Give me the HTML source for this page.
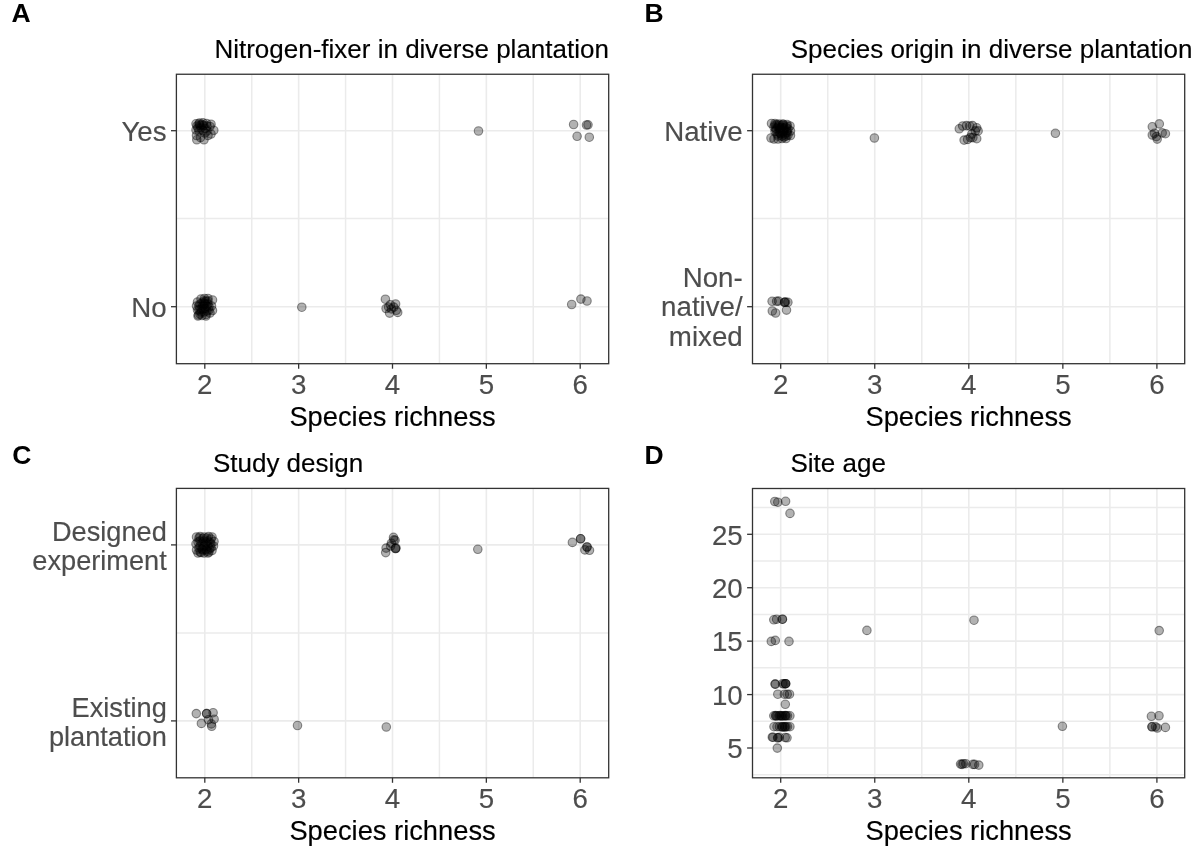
<!DOCTYPE html><html><head><meta charset="utf-8"><style>html,body{margin:0;padding:0;background:#fff;}svg{display:block;will-change:transform;}text{font-family:"Liberation Sans", sans-serif;}</style></head><body>
<svg width="1200" height="853" viewBox="0 0 1200 853">
<rect width="1200" height="853" fill="#fff"/>
<line x1="251.73" y1="74.25" x2="251.73" y2="363.70" stroke="#EBEBEB" stroke-width="1.5"/>
<line x1="345.57" y1="74.25" x2="345.57" y2="363.70" stroke="#EBEBEB" stroke-width="1.5"/>
<line x1="439.43" y1="74.25" x2="439.43" y2="363.70" stroke="#EBEBEB" stroke-width="1.5"/>
<line x1="533.27" y1="74.25" x2="533.27" y2="363.70" stroke="#EBEBEB" stroke-width="1.5"/>
<line x1="176.40" y1="218.50" x2="608.70" y2="218.50" stroke="#EBEBEB" stroke-width="1.5"/>
<line x1="204.80" y1="74.25" x2="204.80" y2="363.70" stroke="#EBEBEB" stroke-width="1.6"/>
<line x1="298.65" y1="74.25" x2="298.65" y2="363.70" stroke="#EBEBEB" stroke-width="1.6"/>
<line x1="392.50" y1="74.25" x2="392.50" y2="363.70" stroke="#EBEBEB" stroke-width="1.6"/>
<line x1="486.35" y1="74.25" x2="486.35" y2="363.70" stroke="#EBEBEB" stroke-width="1.6"/>
<line x1="580.20" y1="74.25" x2="580.20" y2="363.70" stroke="#EBEBEB" stroke-width="1.6"/>
<line x1="176.40" y1="130.70" x2="608.70" y2="130.70" stroke="#EBEBEB" stroke-width="1.6"/>
<line x1="176.40" y1="306.70" x2="608.70" y2="306.70" stroke="#EBEBEB" stroke-width="1.6"/>
<line x1="827.73" y1="74.25" x2="827.73" y2="363.70" stroke="#EBEBEB" stroke-width="1.5"/>
<line x1="921.78" y1="74.25" x2="921.78" y2="363.70" stroke="#EBEBEB" stroke-width="1.5"/>
<line x1="1015.83" y1="74.25" x2="1015.83" y2="363.70" stroke="#EBEBEB" stroke-width="1.5"/>
<line x1="1109.88" y1="74.25" x2="1109.88" y2="363.70" stroke="#EBEBEB" stroke-width="1.5"/>
<line x1="752.50" y1="218.50" x2="1184.70" y2="218.50" stroke="#EBEBEB" stroke-width="1.5"/>
<line x1="780.70" y1="74.25" x2="780.70" y2="363.70" stroke="#EBEBEB" stroke-width="1.6"/>
<line x1="874.75" y1="74.25" x2="874.75" y2="363.70" stroke="#EBEBEB" stroke-width="1.6"/>
<line x1="968.80" y1="74.25" x2="968.80" y2="363.70" stroke="#EBEBEB" stroke-width="1.6"/>
<line x1="1062.85" y1="74.25" x2="1062.85" y2="363.70" stroke="#EBEBEB" stroke-width="1.6"/>
<line x1="1156.90" y1="74.25" x2="1156.90" y2="363.70" stroke="#EBEBEB" stroke-width="1.6"/>
<line x1="752.50" y1="130.70" x2="1184.70" y2="130.70" stroke="#EBEBEB" stroke-width="1.6"/>
<line x1="752.50" y1="306.70" x2="1184.70" y2="306.70" stroke="#EBEBEB" stroke-width="1.6"/>
<line x1="251.73" y1="488.40" x2="251.73" y2="777.80" stroke="#EBEBEB" stroke-width="1.5"/>
<line x1="345.57" y1="488.40" x2="345.57" y2="777.80" stroke="#EBEBEB" stroke-width="1.5"/>
<line x1="439.43" y1="488.40" x2="439.43" y2="777.80" stroke="#EBEBEB" stroke-width="1.5"/>
<line x1="533.27" y1="488.40" x2="533.27" y2="777.80" stroke="#EBEBEB" stroke-width="1.5"/>
<line x1="176.40" y1="633.10" x2="608.70" y2="633.10" stroke="#EBEBEB" stroke-width="1.5"/>
<line x1="204.80" y1="488.40" x2="204.80" y2="777.80" stroke="#EBEBEB" stroke-width="1.6"/>
<line x1="298.65" y1="488.40" x2="298.65" y2="777.80" stroke="#EBEBEB" stroke-width="1.6"/>
<line x1="392.50" y1="488.40" x2="392.50" y2="777.80" stroke="#EBEBEB" stroke-width="1.6"/>
<line x1="486.35" y1="488.40" x2="486.35" y2="777.80" stroke="#EBEBEB" stroke-width="1.6"/>
<line x1="580.20" y1="488.40" x2="580.20" y2="777.80" stroke="#EBEBEB" stroke-width="1.6"/>
<line x1="176.40" y1="544.90" x2="608.70" y2="544.90" stroke="#EBEBEB" stroke-width="1.6"/>
<line x1="176.40" y1="720.90" x2="608.70" y2="720.90" stroke="#EBEBEB" stroke-width="1.6"/>
<line x1="827.73" y1="488.50" x2="827.73" y2="777.80" stroke="#EBEBEB" stroke-width="1.5"/>
<line x1="921.78" y1="488.50" x2="921.78" y2="777.80" stroke="#EBEBEB" stroke-width="1.5"/>
<line x1="1015.83" y1="488.50" x2="1015.83" y2="777.80" stroke="#EBEBEB" stroke-width="1.5"/>
<line x1="1109.88" y1="488.50" x2="1109.88" y2="777.80" stroke="#EBEBEB" stroke-width="1.5"/>
<line x1="752.50" y1="774.71" x2="1184.70" y2="774.71" stroke="#EBEBEB" stroke-width="1.5"/>
<line x1="752.50" y1="721.29" x2="1184.70" y2="721.29" stroke="#EBEBEB" stroke-width="1.5"/>
<line x1="752.50" y1="667.86" x2="1184.70" y2="667.86" stroke="#EBEBEB" stroke-width="1.5"/>
<line x1="752.50" y1="614.44" x2="1184.70" y2="614.44" stroke="#EBEBEB" stroke-width="1.5"/>
<line x1="752.50" y1="561.01" x2="1184.70" y2="561.01" stroke="#EBEBEB" stroke-width="1.5"/>
<line x1="752.50" y1="507.59" x2="1184.70" y2="507.59" stroke="#EBEBEB" stroke-width="1.5"/>
<line x1="780.70" y1="488.50" x2="780.70" y2="777.80" stroke="#EBEBEB" stroke-width="1.6"/>
<line x1="874.75" y1="488.50" x2="874.75" y2="777.80" stroke="#EBEBEB" stroke-width="1.6"/>
<line x1="968.80" y1="488.50" x2="968.80" y2="777.80" stroke="#EBEBEB" stroke-width="1.6"/>
<line x1="1062.85" y1="488.50" x2="1062.85" y2="777.80" stroke="#EBEBEB" stroke-width="1.6"/>
<line x1="1156.90" y1="488.50" x2="1156.90" y2="777.80" stroke="#EBEBEB" stroke-width="1.6"/>
<line x1="752.50" y1="748.00" x2="1184.70" y2="748.00" stroke="#EBEBEB" stroke-width="1.6"/>
<line x1="752.50" y1="694.58" x2="1184.70" y2="694.58" stroke="#EBEBEB" stroke-width="1.6"/>
<line x1="752.50" y1="641.15" x2="1184.70" y2="641.15" stroke="#EBEBEB" stroke-width="1.6"/>
<line x1="752.50" y1="587.73" x2="1184.70" y2="587.73" stroke="#EBEBEB" stroke-width="1.6"/>
<line x1="752.50" y1="534.30" x2="1184.70" y2="534.30" stroke="#EBEBEB" stroke-width="1.6"/>
<g fill="rgba(0,0,0,0.3)" stroke="rgba(0,0,0,0.42)" stroke-width="1.1">
<circle cx="196.00" cy="123.80" r="4.25"/>
<circle cx="199.50" cy="123.00" r="4.25"/>
<circle cx="203.00" cy="122.80" r="4.25"/>
<circle cx="206.50" cy="123.50" r="4.25"/>
<circle cx="211.00" cy="124.20" r="4.25"/>
<circle cx="197.00" cy="126.00" r="4.25"/>
<circle cx="200.00" cy="125.50" r="4.25"/>
<circle cx="203.50" cy="125.50" r="4.25"/>
<circle cx="207.00" cy="126.00" r="4.25"/>
<circle cx="210.00" cy="126.50" r="4.25"/>
<circle cx="198.00" cy="128.00" r="4.25"/>
<circle cx="201.00" cy="128.00" r="4.25"/>
<circle cx="205.00" cy="128.50" r="4.25"/>
<circle cx="199.00" cy="124.00" r="4.25"/>
<circle cx="202.00" cy="124.50" r="4.25"/>
<circle cx="213.80" cy="130.30" r="4.25"/>
<circle cx="211.00" cy="134.00" r="4.25"/>
<circle cx="207.00" cy="131.00" r="4.25"/>
<circle cx="203.00" cy="130.50" r="4.25"/>
<circle cx="199.00" cy="131.00" r="4.25"/>
<circle cx="196.00" cy="130.00" r="4.25"/>
<circle cx="205.00" cy="133.00" r="4.25"/>
<circle cx="196.50" cy="135.50" r="4.25"/>
<circle cx="196.80" cy="139.80" r="4.25"/>
<circle cx="200.50" cy="137.50" r="4.25"/>
<circle cx="204.00" cy="139.80" r="4.25"/>
<circle cx="208.00" cy="135.50" r="4.25"/>
<circle cx="478.50" cy="131.00" r="4.25"/>
<circle cx="573.60" cy="124.50" r="4.25"/>
<circle cx="586.50" cy="125.00" r="4.25"/>
<circle cx="588.00" cy="124.80" r="4.25"/>
<circle cx="577.10" cy="136.30" r="4.25"/>
<circle cx="589.30" cy="137.20" r="4.25"/>
<circle cx="197.50" cy="302.00" r="4.25"/>
<circle cx="201.00" cy="299.00" r="4.25"/>
<circle cx="204.50" cy="298.50" r="4.25"/>
<circle cx="208.00" cy="298.50" r="4.25"/>
<circle cx="212.50" cy="300.00" r="4.25"/>
<circle cx="196.50" cy="306.00" r="4.25"/>
<circle cx="200.00" cy="304.00" r="4.25"/>
<circle cx="204.00" cy="303.00" r="4.25"/>
<circle cx="208.00" cy="304.00" r="4.25"/>
<circle cx="211.50" cy="306.00" r="4.25"/>
<circle cx="212.50" cy="310.50" r="4.25"/>
<circle cx="197.50" cy="310.00" r="4.25"/>
<circle cx="201.00" cy="309.00" r="4.25"/>
<circle cx="205.00" cy="308.50" r="4.25"/>
<circle cx="209.00" cy="310.00" r="4.25"/>
<circle cx="198.50" cy="315.00" r="4.25"/>
<circle cx="202.00" cy="315.50" r="4.25"/>
<circle cx="206.00" cy="314.50" r="4.25"/>
<circle cx="210.00" cy="313.00" r="4.25"/>
<circle cx="203.00" cy="306.00" r="4.25"/>
<circle cx="206.00" cy="301.00" r="4.25"/>
<circle cx="207.00" cy="306.50" r="4.25"/>
<circle cx="201.00" cy="312.00" r="4.25"/>
<circle cx="204.00" cy="301.00" r="4.25"/>
<circle cx="208.00" cy="301.00" r="4.25"/>
<circle cx="199.00" cy="306.00" r="4.25"/>
<circle cx="203.00" cy="309.00" r="4.25"/>
<circle cx="207.00" cy="311.00" r="4.25"/>
<circle cx="204.00" cy="312.00" r="4.25"/>
<circle cx="200.00" cy="314.00" r="4.25"/>
<circle cx="205.00" cy="304.00" r="4.25"/>
<circle cx="209.00" cy="307.00" r="4.25"/>
<circle cx="202.00" cy="303.00" r="4.25"/>
<circle cx="206.00" cy="316.00" r="4.25"/>
<circle cx="199.00" cy="310.00" r="4.25"/>
<circle cx="198.00" cy="316.00" r="4.25"/>
<circle cx="301.80" cy="307.20" r="4.25"/>
<circle cx="385.40" cy="299.20" r="4.25"/>
<circle cx="390.30" cy="304.70" r="4.25"/>
<circle cx="395.60" cy="304.00" r="4.25"/>
<circle cx="386.10" cy="308.50" r="4.25"/>
<circle cx="389.60" cy="313.10" r="4.25"/>
<circle cx="397.70" cy="312.40" r="4.25"/>
<circle cx="391.40" cy="308.90" r="4.25"/>
<circle cx="393.80" cy="307.10" r="4.25"/>
<circle cx="388.60" cy="307.10" r="4.25"/>
<circle cx="396.30" cy="310.30" r="4.25"/>
<circle cx="571.70" cy="304.50" r="4.25"/>
<circle cx="580.90" cy="299.10" r="4.25"/>
<circle cx="587.00" cy="301.00" r="4.25"/>
<circle cx="771.50" cy="123.50" r="4.25"/>
<circle cx="775.00" cy="123.50" r="4.25"/>
<circle cx="779.00" cy="124.00" r="4.25"/>
<circle cx="783.00" cy="124.00" r="4.25"/>
<circle cx="787.00" cy="124.50" r="4.25"/>
<circle cx="790.00" cy="126.00" r="4.25"/>
<circle cx="790.50" cy="131.00" r="4.25"/>
<circle cx="790.50" cy="135.50" r="4.25"/>
<circle cx="786.00" cy="138.50" r="4.25"/>
<circle cx="782.00" cy="138.50" r="4.25"/>
<circle cx="778.00" cy="139.00" r="4.25"/>
<circle cx="774.00" cy="139.00" r="4.25"/>
<circle cx="771.00" cy="138.00" r="4.25"/>
<circle cx="776.00" cy="130.00" r="4.25"/>
<circle cx="780.00" cy="130.00" r="4.25"/>
<circle cx="784.00" cy="130.00" r="4.25"/>
<circle cx="787.00" cy="131.00" r="4.25"/>
<circle cx="774.00" cy="127.00" r="4.25"/>
<circle cx="778.00" cy="127.00" r="4.25"/>
<circle cx="782.00" cy="127.50" r="4.25"/>
<circle cx="786.00" cy="127.50" r="4.25"/>
<circle cx="777.00" cy="134.00" r="4.25"/>
<circle cx="781.00" cy="134.00" r="4.25"/>
<circle cx="785.00" cy="134.00" r="4.25"/>
<circle cx="788.00" cy="135.00" r="4.25"/>
<circle cx="775.00" cy="125.00" r="4.25"/>
<circle cx="779.00" cy="125.50" r="4.25"/>
<circle cx="783.00" cy="125.50" r="4.25"/>
<circle cx="787.00" cy="126.00" r="4.25"/>
<circle cx="776.00" cy="128.50" r="4.25"/>
<circle cx="780.00" cy="128.00" r="4.25"/>
<circle cx="784.00" cy="128.50" r="4.25"/>
<circle cx="788.00" cy="129.00" r="4.25"/>
<circle cx="775.00" cy="131.50" r="4.25"/>
<circle cx="779.00" cy="132.00" r="4.25"/>
<circle cx="783.00" cy="132.00" r="4.25"/>
<circle cx="787.00" cy="132.50" r="4.25"/>
<circle cx="778.00" cy="136.00" r="4.25"/>
<circle cx="782.00" cy="136.00" r="4.25"/>
<circle cx="786.00" cy="136.00" r="4.25"/>
<circle cx="784.00" cy="137.00" r="4.25"/>
<circle cx="780.00" cy="133.00" r="4.25"/>
<circle cx="783.00" cy="124.50" r="4.25"/>
<circle cx="777.00" cy="124.50" r="4.25"/>
<circle cx="874.40" cy="138.00" r="4.25"/>
<circle cx="959.30" cy="128.80" r="4.25"/>
<circle cx="962.70" cy="126.00" r="4.25"/>
<circle cx="966.50" cy="125.60" r="4.25"/>
<circle cx="969.70" cy="126.00" r="4.25"/>
<circle cx="972.50" cy="125.60" r="4.25"/>
<circle cx="976.70" cy="127.80" r="4.25"/>
<circle cx="978.10" cy="130.90" r="4.25"/>
<circle cx="975.30" cy="130.90" r="4.25"/>
<circle cx="971.80" cy="134.10" r="4.25"/>
<circle cx="972.90" cy="137.60" r="4.25"/>
<circle cx="976.70" cy="138.70" r="4.25"/>
<circle cx="964.10" cy="140.10" r="4.25"/>
<circle cx="967.60" cy="139.40" r="4.25"/>
<circle cx="970.40" cy="137.60" r="4.25"/>
<circle cx="1055.40" cy="133.30" r="4.25"/>
<circle cx="1152.30" cy="126.80" r="4.25"/>
<circle cx="1159.30" cy="123.90" r="4.25"/>
<circle cx="1165.40" cy="133.70" r="4.25"/>
<circle cx="1152.30" cy="135.00" r="4.25"/>
<circle cx="1156.40" cy="136.60" r="4.25"/>
<circle cx="1157.20" cy="139.10" r="4.25"/>
<circle cx="1162.20" cy="132.90" r="4.25"/>
<circle cx="1154.40" cy="133.30" r="4.25"/>
<circle cx="772.10" cy="301.30" r="4.25"/>
<circle cx="776.60" cy="301.30" r="4.25"/>
<circle cx="778.50" cy="301.10" r="4.25"/>
<circle cx="784.60" cy="302.30" r="4.25"/>
<circle cx="784.60" cy="302.30" r="4.25"/>
<circle cx="785.50" cy="302.00" r="4.25"/>
<circle cx="787.90" cy="302.30" r="4.25"/>
<circle cx="772.30" cy="311.00" r="4.25"/>
<circle cx="775.60" cy="313.00" r="4.25"/>
<circle cx="786.50" cy="310.10" r="4.25"/>
<circle cx="196.50" cy="537.00" r="4.25"/>
<circle cx="200.00" cy="536.50" r="4.25"/>
<circle cx="204.00" cy="537.00" r="4.25"/>
<circle cx="208.50" cy="536.50" r="4.25"/>
<circle cx="212.00" cy="537.00" r="4.25"/>
<circle cx="214.00" cy="541.50" r="4.25"/>
<circle cx="213.50" cy="546.00" r="4.25"/>
<circle cx="212.00" cy="550.50" r="4.25"/>
<circle cx="208.00" cy="553.00" r="4.25"/>
<circle cx="204.00" cy="553.00" r="4.25"/>
<circle cx="200.00" cy="552.00" r="4.25"/>
<circle cx="196.50" cy="550.00" r="4.25"/>
<circle cx="196.00" cy="544.00" r="4.25"/>
<circle cx="200.00" cy="541.00" r="4.25"/>
<circle cx="204.00" cy="541.00" r="4.25"/>
<circle cx="208.00" cy="541.00" r="4.25"/>
<circle cx="200.00" cy="546.00" r="4.25"/>
<circle cx="204.00" cy="546.00" r="4.25"/>
<circle cx="208.00" cy="546.00" r="4.25"/>
<circle cx="211.00" cy="544.00" r="4.25"/>
<circle cx="202.00" cy="549.00" r="4.25"/>
<circle cx="206.00" cy="549.50" r="4.25"/>
<circle cx="209.50" cy="549.00" r="4.25"/>
<circle cx="198.00" cy="553.00" r="4.25"/>
<circle cx="199.00" cy="538.00" r="4.25"/>
<circle cx="203.00" cy="538.50" r="4.25"/>
<circle cx="207.00" cy="538.00" r="4.25"/>
<circle cx="211.00" cy="539.00" r="4.25"/>
<circle cx="198.00" cy="542.00" r="4.25"/>
<circle cx="202.00" cy="543.00" r="4.25"/>
<circle cx="206.00" cy="543.00" r="4.25"/>
<circle cx="210.00" cy="542.50" r="4.25"/>
<circle cx="199.00" cy="548.00" r="4.25"/>
<circle cx="203.00" cy="550.00" r="4.25"/>
<circle cx="207.00" cy="551.00" r="4.25"/>
<circle cx="211.00" cy="547.50" r="4.25"/>
<circle cx="205.00" cy="545.00" r="4.25"/>
<circle cx="201.00" cy="552.50" r="4.25"/>
<circle cx="209.00" cy="552.00" r="4.25"/>
<circle cx="393.50" cy="537.40" r="4.25"/>
<circle cx="393.90" cy="539.90" r="4.25"/>
<circle cx="395.10" cy="540.30" r="4.25"/>
<circle cx="391.40" cy="543.20" r="4.25"/>
<circle cx="395.50" cy="548.50" r="4.25"/>
<circle cx="395.50" cy="548.50" r="4.25"/>
<circle cx="396.00" cy="548.00" r="4.25"/>
<circle cx="386.10" cy="548.10" r="4.25"/>
<circle cx="385.70" cy="552.60" r="4.25"/>
<circle cx="390.60" cy="546.00" r="4.25"/>
<circle cx="477.80" cy="549.30" r="4.25"/>
<circle cx="572.40" cy="542.40" r="4.25"/>
<circle cx="580.60" cy="538.80" r="4.25"/>
<circle cx="580.60" cy="538.80" r="4.25"/>
<circle cx="587.00" cy="547.00" r="4.25"/>
<circle cx="587.00" cy="547.00" r="4.25"/>
<circle cx="584.90" cy="549.90" r="4.25"/>
<circle cx="589.50" cy="550.30" r="4.25"/>
<circle cx="196.30" cy="713.60" r="4.25"/>
<circle cx="206.60" cy="713.60" r="4.25"/>
<circle cx="206.60" cy="713.60" r="4.25"/>
<circle cx="213.10" cy="712.70" r="4.25"/>
<circle cx="214.10" cy="719.20" r="4.25"/>
<circle cx="201.40" cy="723.40" r="4.25"/>
<circle cx="211.30" cy="723.90" r="4.25"/>
<circle cx="211.70" cy="726.30" r="4.25"/>
<circle cx="208.40" cy="719.70" r="4.25"/>
<circle cx="297.50" cy="725.50" r="4.25"/>
<circle cx="386.30" cy="727.00" r="4.25"/>
<circle cx="774.80" cy="501.50" r="4.25"/>
<circle cx="777.80" cy="502.20" r="4.25"/>
<circle cx="785.60" cy="501.30" r="4.25"/>
<circle cx="790.00" cy="513.40" r="4.25"/>
<circle cx="773.80" cy="619.80" r="4.25"/>
<circle cx="776.60" cy="619.20" r="4.25"/>
<circle cx="782.40" cy="619.20" r="4.25"/>
<circle cx="782.40" cy="619.20" r="4.25"/>
<circle cx="771.30" cy="641.40" r="4.25"/>
<circle cx="775.30" cy="640.40" r="4.25"/>
<circle cx="789.00" cy="641.40" r="4.25"/>
<circle cx="775.00" cy="684.10" r="4.25"/>
<circle cx="775.40" cy="684.10" r="4.25"/>
<circle cx="785.60" cy="683.70" r="4.25"/>
<circle cx="785.60" cy="683.70" r="4.25"/>
<circle cx="785.60" cy="683.70" r="4.25"/>
<circle cx="782.50" cy="683.70" r="4.25"/>
<circle cx="784.00" cy="683.90" r="4.25"/>
<circle cx="777.80" cy="694.20" r="4.25"/>
<circle cx="784.40" cy="694.20" r="4.25"/>
<circle cx="787.20" cy="694.20" r="4.25"/>
<circle cx="789.50" cy="694.20" r="4.25"/>
<circle cx="785.30" cy="704.30" r="4.25"/>
<circle cx="773.80" cy="715.80" r="4.25"/>
<circle cx="775.50" cy="715.60" r="4.25"/>
<circle cx="777.00" cy="715.80" r="4.25"/>
<circle cx="779.00" cy="715.80" r="4.25"/>
<circle cx="780.00" cy="715.60" r="4.25"/>
<circle cx="781.10" cy="715.80" r="4.25"/>
<circle cx="783.00" cy="715.80" r="4.25"/>
<circle cx="784.60" cy="715.80" r="4.25"/>
<circle cx="785.50" cy="715.60" r="4.25"/>
<circle cx="786.00" cy="715.80" r="4.25"/>
<circle cx="787.50" cy="715.80" r="4.25"/>
<circle cx="789.90" cy="715.80" r="4.25"/>
<circle cx="776.00" cy="716.00" r="4.25"/>
<circle cx="782.00" cy="716.00" r="4.25"/>
<circle cx="774.00" cy="726.70" r="4.25"/>
<circle cx="777.00" cy="726.70" r="4.25"/>
<circle cx="779.50" cy="726.70" r="4.25"/>
<circle cx="781.70" cy="726.70" r="4.25"/>
<circle cx="783.00" cy="726.70" r="4.25"/>
<circle cx="784.60" cy="726.70" r="4.25"/>
<circle cx="786.00" cy="726.70" r="4.25"/>
<circle cx="787.50" cy="726.70" r="4.25"/>
<circle cx="789.90" cy="726.70" r="4.25"/>
<circle cx="782.50" cy="727.00" r="4.25"/>
<circle cx="785.00" cy="727.00" r="4.25"/>
<circle cx="772.30" cy="737.20" r="4.25"/>
<circle cx="773.00" cy="737.20" r="4.25"/>
<circle cx="777.60" cy="737.80" r="4.25"/>
<circle cx="778.00" cy="737.80" r="4.25"/>
<circle cx="779.30" cy="737.20" r="4.25"/>
<circle cx="785.20" cy="737.50" r="4.25"/>
<circle cx="787.00" cy="737.80" r="4.25"/>
<circle cx="777.30" cy="748.10" r="4.25"/>
<circle cx="866.90" cy="630.40" r="4.25"/>
<circle cx="974.00" cy="620.20" r="4.25"/>
<circle cx="960.60" cy="764.10" r="4.25"/>
<circle cx="963.40" cy="763.70" r="4.25"/>
<circle cx="965.80" cy="763.70" r="4.25"/>
<circle cx="972.90" cy="764.40" r="4.25"/>
<circle cx="974.60" cy="764.40" r="4.25"/>
<circle cx="978.80" cy="765.10" r="4.25"/>
<circle cx="962.00" cy="764.40" r="4.25"/>
<circle cx="1062.40" cy="726.30" r="4.25"/>
<circle cx="1159.20" cy="630.60" r="4.25"/>
<circle cx="1151.40" cy="716.30" r="4.25"/>
<circle cx="1159.00" cy="715.75" r="4.25"/>
<circle cx="1152.00" cy="726.80" r="4.25"/>
<circle cx="1152.00" cy="726.80" r="4.25"/>
<circle cx="1155.50" cy="726.80" r="4.25"/>
<circle cx="1157.30" cy="728.00" r="4.25"/>
<circle cx="1165.40" cy="727.40" r="4.25"/>
</g>
<rect x="176.40" y="74.25" width="432.30" height="289.45" fill="none" stroke="#333333" stroke-width="1.3"/>
<line x1="204.80" y1="363.70" x2="204.80" y2="368.70" stroke="#333333" stroke-width="1.3"/>
<text x="204.80" y="393.50" font-size="27.7" fill="#4D4D4D" text-anchor="middle" font-weight="normal" stroke="#4D4D4D" stroke-width="0.15">2</text>
<line x1="298.65" y1="363.70" x2="298.65" y2="368.70" stroke="#333333" stroke-width="1.3"/>
<text x="298.65" y="393.50" font-size="27.7" fill="#4D4D4D" text-anchor="middle" font-weight="normal" stroke="#4D4D4D" stroke-width="0.15">3</text>
<line x1="392.50" y1="363.70" x2="392.50" y2="368.70" stroke="#333333" stroke-width="1.3"/>
<text x="392.50" y="393.50" font-size="27.7" fill="#4D4D4D" text-anchor="middle" font-weight="normal" stroke="#4D4D4D" stroke-width="0.15">4</text>
<line x1="486.35" y1="363.70" x2="486.35" y2="368.70" stroke="#333333" stroke-width="1.3"/>
<text x="486.35" y="393.50" font-size="27.7" fill="#4D4D4D" text-anchor="middle" font-weight="normal" stroke="#4D4D4D" stroke-width="0.15">5</text>
<line x1="580.20" y1="363.70" x2="580.20" y2="368.70" stroke="#333333" stroke-width="1.3"/>
<text x="580.20" y="393.50" font-size="27.7" fill="#4D4D4D" text-anchor="middle" font-weight="normal" stroke="#4D4D4D" stroke-width="0.15">6</text>
<line x1="171.00" y1="130.70" x2="176.40" y2="130.70" stroke="#333333" stroke-width="1.3"/>
<line x1="171.00" y1="306.70" x2="176.40" y2="306.70" stroke="#333333" stroke-width="1.3"/>
<text x="166.60" y="140.90" font-size="27.7" fill="#4D4D4D" text-anchor="end" font-weight="normal" stroke="#4D4D4D" stroke-width="0.15">Yes</text>
<text x="166.60" y="316.90" font-size="27.7" fill="#4D4D4D" text-anchor="end" font-weight="normal" stroke="#4D4D4D" stroke-width="0.15">No</text>
<text x="392.55" y="425.70" font-size="27.3" fill="#000" text-anchor="middle" font-weight="normal" stroke="#000" stroke-width="0.15">Species richness</text>
<text x="214.40" y="57.80" font-size="26.0" fill="#000" text-anchor="start" font-weight="normal" stroke="#000" stroke-width="0.15">Nitrogen-fixer in diverse plantation</text>
<text x="11.50" y="21.80" font-size="26.5" fill="#000" text-anchor="start" font-weight="bold">A</text>
<rect x="752.50" y="74.25" width="432.20" height="289.45" fill="none" stroke="#333333" stroke-width="1.3"/>
<line x1="780.70" y1="363.70" x2="780.70" y2="368.70" stroke="#333333" stroke-width="1.3"/>
<text x="780.70" y="393.50" font-size="27.7" fill="#4D4D4D" text-anchor="middle" font-weight="normal" stroke="#4D4D4D" stroke-width="0.15">2</text>
<line x1="874.75" y1="363.70" x2="874.75" y2="368.70" stroke="#333333" stroke-width="1.3"/>
<text x="874.75" y="393.50" font-size="27.7" fill="#4D4D4D" text-anchor="middle" font-weight="normal" stroke="#4D4D4D" stroke-width="0.15">3</text>
<line x1="968.80" y1="363.70" x2="968.80" y2="368.70" stroke="#333333" stroke-width="1.3"/>
<text x="968.80" y="393.50" font-size="27.7" fill="#4D4D4D" text-anchor="middle" font-weight="normal" stroke="#4D4D4D" stroke-width="0.15">4</text>
<line x1="1062.85" y1="363.70" x2="1062.85" y2="368.70" stroke="#333333" stroke-width="1.3"/>
<text x="1062.85" y="393.50" font-size="27.7" fill="#4D4D4D" text-anchor="middle" font-weight="normal" stroke="#4D4D4D" stroke-width="0.15">5</text>
<line x1="1156.90" y1="363.70" x2="1156.90" y2="368.70" stroke="#333333" stroke-width="1.3"/>
<text x="1156.90" y="393.50" font-size="27.7" fill="#4D4D4D" text-anchor="middle" font-weight="normal" stroke="#4D4D4D" stroke-width="0.15">6</text>
<line x1="747.10" y1="130.70" x2="752.50" y2="130.70" stroke="#333333" stroke-width="1.3"/>
<line x1="747.10" y1="306.70" x2="752.50" y2="306.70" stroke="#333333" stroke-width="1.3"/>
<text x="742.70" y="140.90" font-size="27.7" fill="#4D4D4D" text-anchor="end" font-weight="normal" stroke="#4D4D4D" stroke-width="0.15">Native</text>
<text x="742.70" y="286.90" font-size="27.7" fill="#4D4D4D" text-anchor="end" font-weight="normal" stroke="#4D4D4D" stroke-width="0.15">Non-</text>
<text x="742.70" y="316.30" font-size="27.7" fill="#4D4D4D" text-anchor="end" font-weight="normal" stroke="#4D4D4D" stroke-width="0.15">native/</text>
<text x="742.70" y="345.70" font-size="27.7" fill="#4D4D4D" text-anchor="end" font-weight="normal" stroke="#4D4D4D" stroke-width="0.15">mixed</text>
<text x="968.60" y="425.70" font-size="27.3" fill="#000" text-anchor="middle" font-weight="normal" stroke="#000" stroke-width="0.15">Species richness</text>
<text x="790.70" y="57.80" font-size="26.0" fill="#000" text-anchor="start" font-weight="normal" stroke="#000" stroke-width="0.15">Species origin in diverse plantation</text>
<text x="644.40" y="21.80" font-size="26.5" fill="#000" text-anchor="start" font-weight="bold">B</text>
<rect x="176.40" y="488.40" width="432.30" height="289.40" fill="none" stroke="#333333" stroke-width="1.3"/>
<line x1="204.80" y1="777.80" x2="204.80" y2="782.80" stroke="#333333" stroke-width="1.3"/>
<text x="204.80" y="807.60" font-size="27.7" fill="#4D4D4D" text-anchor="middle" font-weight="normal" stroke="#4D4D4D" stroke-width="0.15">2</text>
<line x1="298.65" y1="777.80" x2="298.65" y2="782.80" stroke="#333333" stroke-width="1.3"/>
<text x="298.65" y="807.60" font-size="27.7" fill="#4D4D4D" text-anchor="middle" font-weight="normal" stroke="#4D4D4D" stroke-width="0.15">3</text>
<line x1="392.50" y1="777.80" x2="392.50" y2="782.80" stroke="#333333" stroke-width="1.3"/>
<text x="392.50" y="807.60" font-size="27.7" fill="#4D4D4D" text-anchor="middle" font-weight="normal" stroke="#4D4D4D" stroke-width="0.15">4</text>
<line x1="486.35" y1="777.80" x2="486.35" y2="782.80" stroke="#333333" stroke-width="1.3"/>
<text x="486.35" y="807.60" font-size="27.7" fill="#4D4D4D" text-anchor="middle" font-weight="normal" stroke="#4D4D4D" stroke-width="0.15">5</text>
<line x1="580.20" y1="777.80" x2="580.20" y2="782.80" stroke="#333333" stroke-width="1.3"/>
<text x="580.20" y="807.60" font-size="27.7" fill="#4D4D4D" text-anchor="middle" font-weight="normal" stroke="#4D4D4D" stroke-width="0.15">6</text>
<line x1="171.00" y1="544.90" x2="176.40" y2="544.90" stroke="#333333" stroke-width="1.3"/>
<line x1="171.00" y1="720.90" x2="176.40" y2="720.90" stroke="#333333" stroke-width="1.3"/>
<text x="166.80" y="541.00" font-size="27.2" fill="#4D4D4D" text-anchor="end" font-weight="normal" stroke="#4D4D4D" stroke-width="0.15">Designed</text>
<text x="166.80" y="570.40" font-size="27.2" fill="#4D4D4D" text-anchor="end" font-weight="normal" stroke="#4D4D4D" stroke-width="0.15">experiment</text>
<text x="166.80" y="717.00" font-size="27.2" fill="#4D4D4D" text-anchor="end" font-weight="normal" stroke="#4D4D4D" stroke-width="0.15">Existing</text>
<text x="166.80" y="746.40" font-size="27.2" fill="#4D4D4D" text-anchor="end" font-weight="normal" stroke="#4D4D4D" stroke-width="0.15">plantation</text>
<text x="392.55" y="839.80" font-size="27.3" fill="#000" text-anchor="middle" font-weight="normal" stroke="#000" stroke-width="0.15">Species richness</text>
<text x="212.90" y="472.20" font-size="26.0" fill="#000" text-anchor="start" font-weight="normal" stroke="#000" stroke-width="0.15">Study design</text>
<text x="12.30" y="463.60" font-size="26.5" fill="#000" text-anchor="start" font-weight="bold">C</text>
<rect x="752.50" y="488.50" width="432.20" height="289.30" fill="none" stroke="#333333" stroke-width="1.3"/>
<line x1="780.70" y1="777.80" x2="780.70" y2="782.80" stroke="#333333" stroke-width="1.3"/>
<text x="780.70" y="807.60" font-size="27.7" fill="#4D4D4D" text-anchor="middle" font-weight="normal" stroke="#4D4D4D" stroke-width="0.15">2</text>
<line x1="874.75" y1="777.80" x2="874.75" y2="782.80" stroke="#333333" stroke-width="1.3"/>
<text x="874.75" y="807.60" font-size="27.7" fill="#4D4D4D" text-anchor="middle" font-weight="normal" stroke="#4D4D4D" stroke-width="0.15">3</text>
<line x1="968.80" y1="777.80" x2="968.80" y2="782.80" stroke="#333333" stroke-width="1.3"/>
<text x="968.80" y="807.60" font-size="27.7" fill="#4D4D4D" text-anchor="middle" font-weight="normal" stroke="#4D4D4D" stroke-width="0.15">4</text>
<line x1="1062.85" y1="777.80" x2="1062.85" y2="782.80" stroke="#333333" stroke-width="1.3"/>
<text x="1062.85" y="807.60" font-size="27.7" fill="#4D4D4D" text-anchor="middle" font-weight="normal" stroke="#4D4D4D" stroke-width="0.15">5</text>
<line x1="1156.90" y1="777.80" x2="1156.90" y2="782.80" stroke="#333333" stroke-width="1.3"/>
<text x="1156.90" y="807.60" font-size="27.7" fill="#4D4D4D" text-anchor="middle" font-weight="normal" stroke="#4D4D4D" stroke-width="0.15">6</text>
<line x1="747.10" y1="748.00" x2="752.50" y2="748.00" stroke="#333333" stroke-width="1.3"/>
<line x1="747.10" y1="694.58" x2="752.50" y2="694.58" stroke="#333333" stroke-width="1.3"/>
<line x1="747.10" y1="641.15" x2="752.50" y2="641.15" stroke="#333333" stroke-width="1.3"/>
<line x1="747.10" y1="587.73" x2="752.50" y2="587.73" stroke="#333333" stroke-width="1.3"/>
<line x1="747.10" y1="534.30" x2="752.50" y2="534.30" stroke="#333333" stroke-width="1.3"/>
<text x="742.70" y="758.20" font-size="27.7" fill="#4D4D4D" text-anchor="end" font-weight="normal" stroke="#4D4D4D" stroke-width="0.15">5</text>
<text x="742.70" y="704.78" font-size="27.7" fill="#4D4D4D" text-anchor="end" font-weight="normal" stroke="#4D4D4D" stroke-width="0.15">10</text>
<text x="742.70" y="651.35" font-size="27.7" fill="#4D4D4D" text-anchor="end" font-weight="normal" stroke="#4D4D4D" stroke-width="0.15">15</text>
<text x="742.70" y="597.93" font-size="27.7" fill="#4D4D4D" text-anchor="end" font-weight="normal" stroke="#4D4D4D" stroke-width="0.15">20</text>
<text x="742.70" y="544.50" font-size="27.7" fill="#4D4D4D" text-anchor="end" font-weight="normal" stroke="#4D4D4D" stroke-width="0.15">25</text>
<text x="968.60" y="839.80" font-size="27.3" fill="#000" text-anchor="middle" font-weight="normal" stroke="#000" stroke-width="0.15">Species richness</text>
<text x="790.50" y="471.80" font-size="26.0" fill="#000" text-anchor="start" font-weight="normal" stroke="#000" stroke-width="0.15">Site age</text>
<text x="644.40" y="463.60" font-size="26.5" fill="#000" text-anchor="start" font-weight="bold">D</text>
</svg></body></html>
